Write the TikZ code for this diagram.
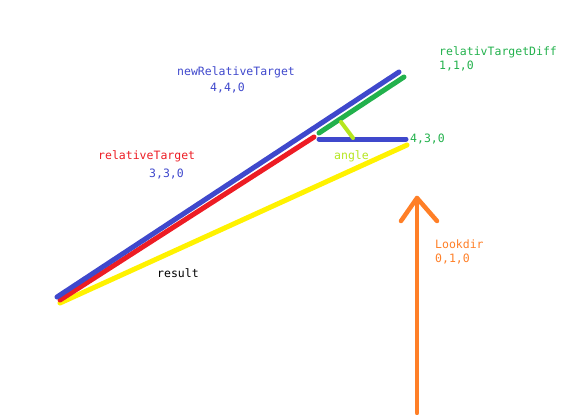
\documentclass[tikz,border=0pt]{standalone}
\usepackage{fontspec}
\setmonofont{DejaVu Sans Mono}
\definecolor{cblue}{HTML}{3F48CC}
\definecolor{cred}{HTML}{ED1C24}
\definecolor{cgreen}{HTML}{22B14C}
\definecolor{cyellow}{HTML}{FFF200}
\definecolor{clime}{HTML}{B5E61D}
\definecolor{corange}{HTML}{FF7F27}
\begin{document}
\begin{tikzpicture}[x=1pt,y=-1pt,
  seg/.style={line width=5pt,line cap=round},
  lbl/.style={anchor=base west,inner sep=0pt,font=\ttfamily\fontsize{11.5}{13}\selectfont}]
\useasboundingbox (0,0) rectangle (582,415);
% endpoints
\coordinate (b1) at (57,297);   \coordinate (b2) at (399,72);
\coordinate (r1) at (60,300);   \coordinate (r2) at (314,137);
\coordinate (g1) at (319,133);  \coordinate (g2) at (404,77);
\coordinate (h1) at (319,139);  \coordinate (h2) at (406,139);
\coordinate (a1) at (341,122);  \coordinate (a2) at (353,138);
\coordinate (y1) at (60,303);   \coordinate (y2) at (407,145);
\coordinate (o1) at (417,413);  \coordinate (o2) at (417,198);
\coordinate (ol) at (401,221);  \coordinate (or) at (437,221);
% lines
\draw[seg,cyellow] (y1) -- (y2);
\draw[seg,cred] (r1) -- (r2);
\draw[seg,cblue] (b1) -- (b2);
\draw[seg,cgreen] (g1) -- (g2);
\draw[seg,cblue] (h1) -- (h2);
\draw[seg,clime,line width=4pt] (a1) -- (a2);
\draw[corange,line width=4.5pt,line cap=round,line join=round] (o1) -- (o2);
\draw[corange,line width=4.5pt,line cap=round,line join=round] (ol) -- (o2) -- (or);
% labels
\node[lbl,cgreen] (tdiff) at (439,56) {relativTargetDiff};
\node[lbl,cgreen] (tdiffv) at (439,69) {1,1,0};
\node[lbl,cgreen] (th) at (410,142) {4,3,0};
\node[lbl,clime] (tang) at (334,159) {angle};
\node[lbl,cblue] (tnew) at (177,75) {newRelativeTarget};
\node[lbl,cblue] (tnewv) at (210,91) {4,4,0};
\node[lbl,cred] (trel) at (98,159) {relativeTarget};
\node[lbl,cblue] (trelv) at (149,177) {3,3,0};
\node[lbl,black] (tres) at (157,277) {result};
\node[lbl,corange] (tlook) at (435,248) {Lookdir};
\node[lbl,corange] (tlookv) at (435,262) {0,1,0};
\end{tikzpicture}
\end{document}
